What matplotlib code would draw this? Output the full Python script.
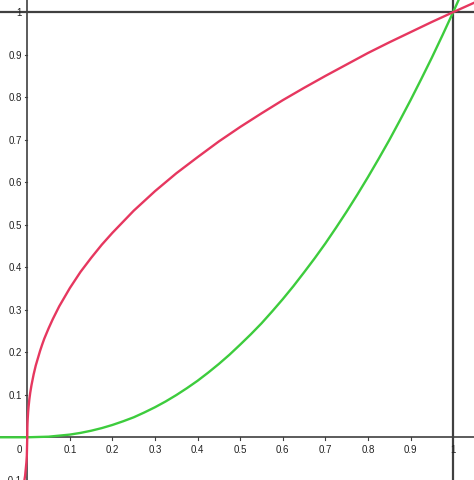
import matplotlib.pyplot as plt

# curva rossa
x_rosso = [-0.012, -0.01, -0.005, -0.002, -0.001, 0.0, 0.0002, 0.0005, 0.001, 0.002, 0.003, 0.005, 0.007,
           0.01, 0.015, 0.02, 0.03, 0.035, 0.04, 0.05, 0.06, 0.075, 0.1, 0.125, 0.15, 0.175, 0.2, 0.25,
           0.3, 0.35, 0.4, 0.45, 0.5, 0.55, 0.6, 0.65, 0.7, 0.75, 0.8, 0.85, 0.9, 0.95, 1.0, 1.06]
y_rosso = [-0.134, -0.123, -0.090, -0.059, -0.043, 0.0, 0.021, 0.032, 0.043, 0.059, 0.071, 0.090, 0.105,
           0.123, 0.148, 0.169, 0.203, 0.218, 0.232, 0.256, 0.278, 0.308, 0.351, 0.389, 0.422, 0.453, 0.481, 0.533,
           0.579, 0.621, 0.659, 0.696, 0.730, 0.762, 0.793, 0.822, 0.850, 0.877, 0.904, 0.929, 0.953, 0.977, 1.0, 1.027]

# curva verde
x_verde = [-0.07, -0.05, 0.0, 0.05, 0.1, 0.125, 0.15, 0.175, 0.2, 0.225, 0.25, 0.275, 0.3, 0.325, 0.35,
           0.375, 0.4, 0.425, 0.45, 0.475, 0.5, 0.525, 0.55, 0.575, 0.6, 0.625, 0.65, 0.675, 0.7, 0.725,
           0.75, 0.775, 0.8, 0.825, 0.85, 0.875, 0.9, 0.925, 0.95, 0.975, 1.0, 1.03]
y_verde = [0.0, 0.0, 0.0, 0.0014, 0.0063, 0.0103, 0.0154, 0.0216, 0.029, 0.0376, 0.047, 0.0584, 0.0707, 0.0843, 0.0993,
           0.1156, 0.133, 0.1522, 0.1726, 0.1944, 0.218, 0.2423, 0.268, 0.296, 0.325, 0.3556, 0.388, 0.4212, 0.456, 0.4929,
           0.531, 0.5707, 0.612, 0.6549, 0.699, 0.7455, 0.793, 0.8424, 0.893, 0.9458, 1.0, 1.067]

tick_x = [0.1, 0.2, 0.3, 0.4, 0.5, 0.6, 0.7, 0.8, 0.9]
tick_y = [-0.1, 0.1, 0.2, 0.3, 0.4, 0.5, 0.6, 0.7, 0.8, 0.9]

fig = plt.figure(figsize=(4.74, 4.81), dpi=100)
ax = fig.add_axes([0, 0, 1, 1])
ax.set_xlim(-0.064, 1.049)
ax.set_ylim(-0.1005, 1.031)
ax.axis('off')

grigio = '#404040'
ax.axhline(0, color=grigio, lw=1.2, zorder=1)
ax.axvline(0, color=grigio, lw=1.2, zorder=1)
ax.axhline(1, color=grigio, lw=1.6, zorder=1)
ax.axvline(1, color=grigio, lw=1.6, zorder=1)

ax.plot(x_rosso, y_rosso, color='#e6375f', lw=1.7, zorder=3, solid_capstyle='butt')
ax.plot(x_verde, y_verde, color='#3dcc3d', lw=1.7, zorder=2, solid_capstyle='butt')

fs = 7
for t in tick_x:
    ax.plot([t, t], [0, -0.006], color=grigio, lw=0.8)
    ax.text(t, -0.016, str(t), ha='center', va='top', fontsize=fs, family='Liberation Sans', color='#222222')
for t in tick_y:
    ax.plot([0, -0.006], [t, t], color=grigio, lw=0.8)
    ax.text(-0.013, t, str(t).replace('-', '\u2212'), ha='right', va='center', fontsize=fs,
            family='Liberation Sans', color='#222222')
ax.text(-0.013, -0.016, '0', ha='right', va='top', fontsize=fs, family='Liberation Sans', color='#222222')
ax.text(-0.013, 1.0, '1', ha='right', va='center', fontsize=fs, family='Liberation Sans', color='#222222')
ax.text(1.0, -0.016, '1', ha='center', va='top', fontsize=fs, family='Liberation Sans', color='#222222')

plt.savefig('out.png', dpi=100)
